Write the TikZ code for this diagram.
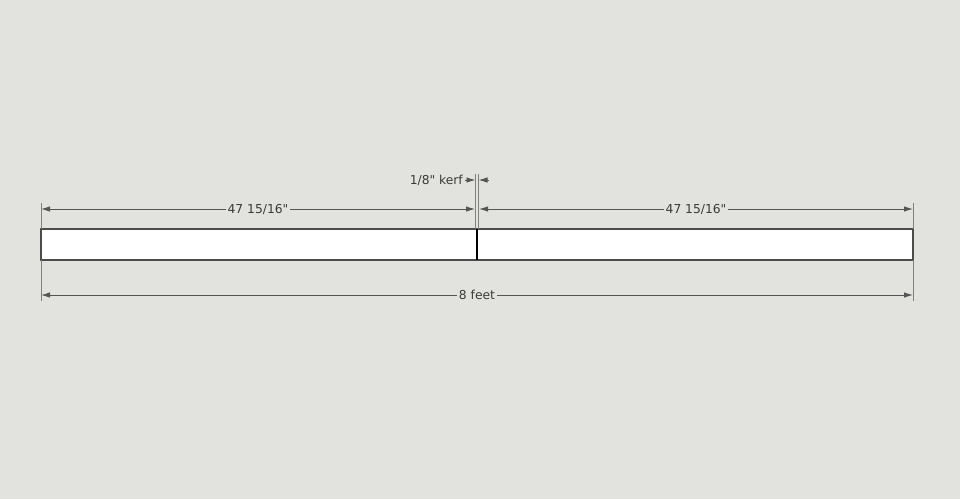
\documentclass[tikz,border=0pt]{standalone}
\usepackage{fontspec}
\setmainfont[Ligatures=TeXOff]{DejaVu Sans}
\usetikzlibrary{arrows.meta}
\definecolor{bg}{HTML}{E2E2DE}
\definecolor{dimc}{HTML}{555555}
\definecolor{txt}{HTML}{3A3A3A}
\begin{document}
\begin{tikzpicture}[x=1pt,y=-1pt,
  dimline/.style={draw=dimc,line width=0.9pt,{Latex[length=9pt,width=5.5pt]}-{Latex[length=9pt,width=5.5pt]}},
  extline/.style={draw=dimc!75,line width=0.7pt},
  lbl/.style={font=\fontsize{12.3}{14}\selectfont,text=txt,fill=bg,inner sep=1.5pt},
  board/.style={draw=black!70,fill=white,line width=1.1pt}]
\fill[bg] (0,0) rectangle (960,499);
\useasboundingbox (0,0) rectangle (960,499);
% board
\draw[board] (41,229) rectangle (913,260);
\draw[line width=2pt,black] (477,229) -- (477,260);
% coordinates
\coordinate (L) at (41,209);
\coordinate (ML) at (475,209);
\coordinate (MR) at (479,209);
\coordinate (R) at (913,209);
\coordinate (BL) at (41,295);
\coordinate (BR) at (913,295);
% extension lines
\draw[extline] (41,203) -- (41,229);
\draw[extline] (913,203) -- (913,229);
\draw[extline] (41,260) -- (41,301);
\draw[extline] (913,260) -- (913,301);
\draw[extline] (475.5,174) -- (475.5,229);
\draw[extline] (478.5,174) -- (478.5,229);
% dimensions
\draw[dimline] (L) -- node[lbl] {47 15/16"} (ML);
\draw[dimline] (MR) -- node[lbl] {47 15/16"} (R);
\draw[dimline] (BL) -- node[lbl] {8 feet} (BR);
% kerf
\coordinate (KL) at (475.5,180);
\coordinate (KR) at (478.5,180);
\draw[draw=dimc,line width=0.9pt,-{Latex[length=9pt,width=5.5pt]}] (465,180) -- (KL);
\draw[draw=dimc,line width=0.9pt,-{Latex[length=9pt,width=5.5pt]}] (489,180) -- (KR);
\node[lbl,anchor=east,fill=none,inner sep=0pt] (kerf) at (463,180) {1/8" kerf};
\end{tikzpicture}
\end{document}
